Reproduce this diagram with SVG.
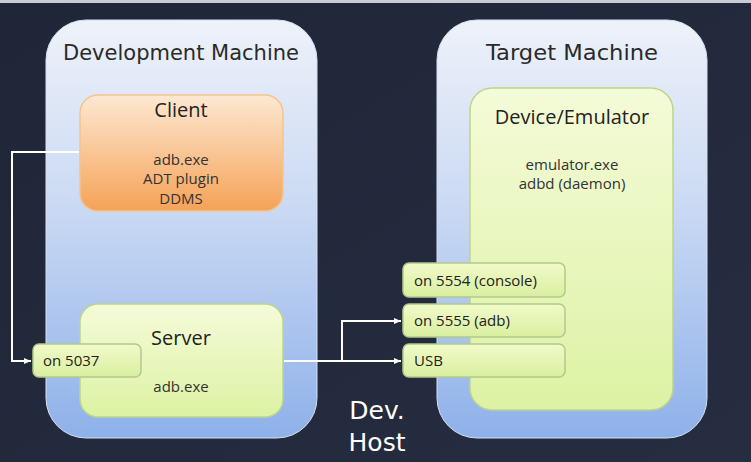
<svg xmlns="http://www.w3.org/2000/svg" width="751" height="462" viewBox="0 0 751 462">
<defs>
<linearGradient id="bg" x1="0" y1="0" x2="1" y2="1">
<stop offset="0" stop-color="#1f2638"/>
<stop offset="1" stop-color="#262d40"/>
</linearGradient>
<linearGradient id="machine" x1="0" y1="0" x2="0" y2="1">
<stop offset="0" stop-color="#eef2fa"/>
<stop offset="0.45" stop-color="#cad9f3"/>
<stop offset="1" stop-color="#8eb1ea"/>
</linearGradient>
<linearGradient id="orange" x1="0" y1="0" x2="0" y2="1">
<stop offset="0" stop-color="#fde8d2"/>
<stop offset="1" stop-color="#f5a257"/>
</linearGradient>
<linearGradient id="green" x1="0" y1="0" x2="0" y2="1">
<stop offset="0" stop-color="#f4fbd8"/>
<stop offset="1" stop-color="#ddf2a4"/>
</linearGradient>
<linearGradient id="port" x1="0" y1="0" x2="0" y2="1">
<stop offset="0" stop-color="#f1fac9"/>
<stop offset="1" stop-color="#d9efa0"/>
</linearGradient>
<marker id="arrow" markerWidth="8" markerHeight="8" refX="7" refY="4" orient="auto" markerUnits="userSpaceOnUse">
<path d="M0,1 L7,4 L0,7 Z" fill="#ffffff"/>
</marker>
</defs>
<style>
.title{font-family:"DejaVu Sans","Noto Sans",sans-serif;font-size:21px;fill:#2a2a2a;text-anchor:middle}
.head{font-family:"Open Sans","Noto Sans",sans-serif;font-size:20px;fill:#222;text-anchor:middle}
.body{font-family:"Open Sans","Noto Sans",sans-serif;font-size:15px;fill:#333;text-anchor:middle}
.portt{font-family:"Open Sans","Noto Sans",sans-serif;font-size:15px;fill:#222}
.machine{fill:url(#machine);stroke:#d6e0f0;stroke-width:1}
.client{fill:url(#orange);stroke:#f3c48f;stroke-width:1.5}
.green{fill:url(#green);stroke:#bcd58a;stroke-width:1.5}
.port{fill:url(#port);stroke:#b2c98a;stroke-width:1.5}
.conn{fill:none;stroke:#ffffff;stroke-width:2}
.host{font-family:"DejaVu Sans","Noto Sans",sans-serif;font-size:25px;fill:#ffffff;text-anchor:middle}
</style>
<rect x="0" y="0" width="751" height="462" fill="url(#bg)"/>
<rect x="0" y="0" width="751" height="3" fill="#c9ccd2"/>

<g id="dev-machine">
<rect class="machine" x="46" y="20" width="271" height="418" rx="40"/>
<text class="title" x="181" y="60" textLength="236" lengthAdjust="spacingAndGlyphs">Development Machine</text>
</g>

<g id="target-machine">
<rect class="machine" x="437" y="20" width="270" height="418" rx="40"/>
<text class="title" x="572" y="60" textLength="172" lengthAdjust="spacingAndGlyphs">Target Machine</text>
</g>

<g id="client">
<rect class="client" x="80" y="95" width="203" height="116" rx="18"/>
<text class="head" x="181" y="117">Client</text>
<text class="body" x="181" y="165">adb.exe</text>
<text class="body" x="181" y="184">ADT plugin</text>
<text class="body" x="181" y="204">DDMS</text>
</g>

<g id="server">
<rect class="green" x="80" y="304" width="203" height="113" rx="18"/>
<text class="head" x="181" y="345">Server</text>
<text class="body" x="181" y="392">adb.exe</text>
</g>

<g id="port-5037">
<rect class="port" x="33" y="344" width="108" height="33" rx="6"/>
<text class="portt" x="43" y="366">on 5037</text>
</g>

<g id="device">
<rect class="green" x="470" y="88" width="203" height="322" rx="22"/>
<text class="head" x="572" y="124">Device/Emulator</text>
<text class="body" x="572" y="170">emulator.exe</text>
<text class="body" x="572" y="189">adbd (daemon)</text>
</g>

<g id="port-5554">
<rect class="port" x="403" y="263" width="162" height="34" rx="6"/>
<text class="portt" x="414" y="286">on 5554 (console)</text>
</g>

<g id="port-5555">
<rect class="port" x="403" y="304" width="162" height="33" rx="6"/>
<text class="portt" x="414" y="326">on 5555 (adb)</text>
</g>

<g id="usb">
<rect class="port" x="403" y="344" width="162" height="33" rx="6"/>
<text class="portt" x="414" y="366">USB</text>
</g>

<g id="connectors">
<polyline class="conn" points="79,152 12,152 12,361 31,361" marker-end="url(#arrow)"/>
<polyline class="conn" points="284,361 401,361" marker-end="url(#arrow)"/>
<polyline class="conn" points="342,361 342,321 401,321" marker-end="url(#arrow)"/>
</g>

<g id="dev-host">
<text class="host" x="377" y="419">Dev.</text>
<text class="host" x="377" y="451">Host</text>
</g>
</svg>
